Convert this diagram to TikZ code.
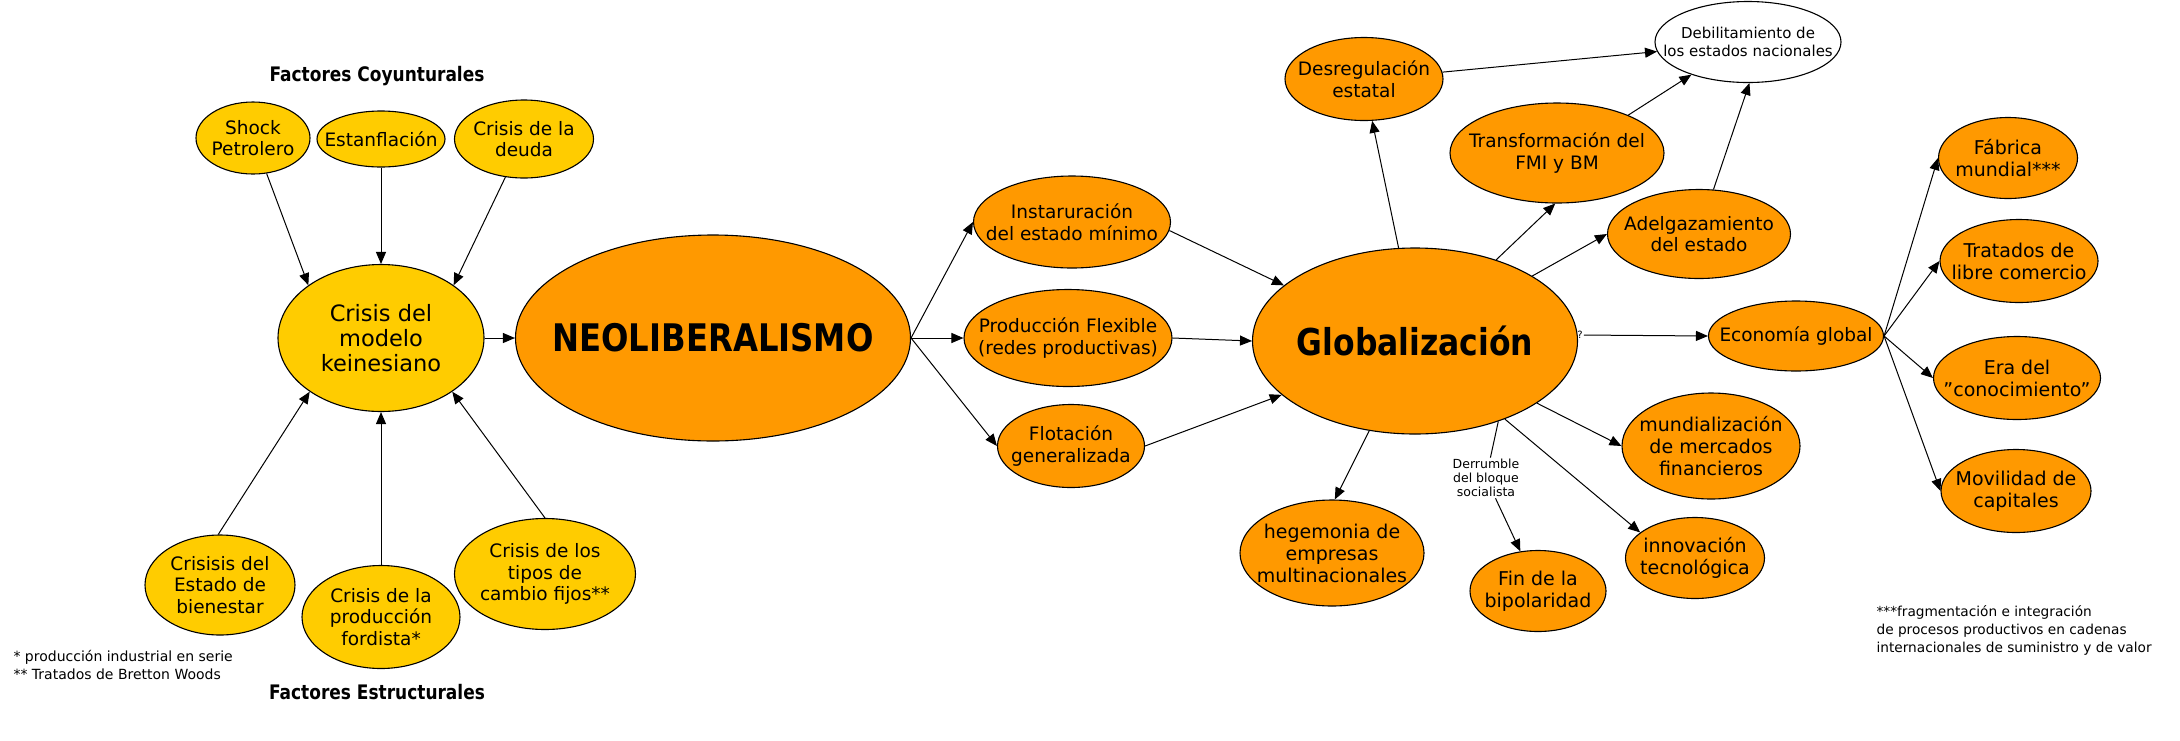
\documentclass[tikz,border=0pt]{standalone}
\usepackage{fontspec}
\setmainfont{DejaVu Sans}
\newfontfamily\headfont{DejaVu Sans}[FakeStretch=0.85]
\usepackage{tikz}
\usetikzlibrary{arrows.meta, shapes}
\definecolor{cmyellow}{RGB}{255,204,0}
\definecolor{cmorange}{RGB}{255,153,0}

\begin{document}
\begin{tikzpicture}[x=1pt, y=-1pt]
	\tikzstyle{factor} = [ ellipse, draw, fill=cmyellow, line width=1.1pt, inner sep=0pt ];
	\tikzstyle{concept} = [ factor, fill=cmorange ];
	\tikzstyle{txt} = [ align=center, inner sep=0pt, font={\fontsize{18.5}{21.5}\selectfont} ];
	\tikzstyle{bigtxt} = [ txt, font={\fontsize{19}{22}\selectfont} ];
	\tikzstyle{title} = [ font={\headfont\bfseries\fontsize{20}{24}\selectfont} ];
	\tikzstyle{info} = [ align=left, font={\fontsize{14}{18}\selectfont} ];
	\tikzstyle{phrase} = [ align=center, inner sep=1pt, font={\fontsize{12.5}{14.3}\selectfont} ];
	\tikzstyle{link} = [ ->, line width=1pt, >={Triangle[length=12pt, width=10pt]} ];

	\useasboundingbox (0,0) rectangle (2180,740);

	% factores coyunturales
	\node[title] (coyunt) at (377,76) {Factores Coyunturales};
	\node[factor, minimum width=114pt, minimum height=72pt, label={[txt]center:Shock\\Petrolero}] (shock) at (253,138) {};
	\node[factor, minimum width=128pt, minimum height=56pt, label={[txt]center:Estanflación}] (estan) at (381,139) {};
	\node[factor, minimum width=139pt, minimum height=78pt, label={[txt]center:Crisis de la\\deuda}] (deuda) at (524,139) {};

	\node[factor, minimum width=206pt, minimum height=147pt, label={[txt, font={\fontsize{22.5}{25}\selectfont}]center:Crisis del\\modelo\\keinesiano}] (keynes) at (381,338) {};

	% factores estructurales
	\node[factor, minimum width=150pt, minimum height=100pt, label={[txt]center:Crisisis del\\Estado de\\bienestar}] (bienestar) at (220,585) {};
	\node[factor, minimum width=158pt, minimum height=103pt, label={[txt]center:Crisis de la\\producción\\fordista*}] (fordista) at (381,617) {};
	\node[factor, minimum width=181pt, minimum height=111pt, label={[txt]center:Crisis de los\\tipos de\\cambio fijos**}] (tipos) at (545,574) {};
	\node[info, anchor=west] (notas) at (10,665) {* producción industrial en serie\\** Tratados de Bretton Woods};
	\node[title] (estruct) at (377,692) {Factores Estructurales};

	\node[concept, minimum width=395pt, minimum height=206pt, label={[txt, font={\headfont\bfseries\fontsize{38}{44}\selectfont}]center:NEOLIBERALISMO}] (neo) at (713,338) {};

	\node[concept, minimum width=197pt, minimum height=92pt, label={[txt]center:Instaruración\\del estado mínimo}] (inst) at (1072,222) {};
	\node[concept, minimum width=208pt, minimum height=97pt, label={[txt]center:Producción Flexible\\(redes productivas)}] (prod) at (1068,338) {};
	\node[concept, minimum width=147pt, minimum height=83pt, label={[txt]center:Flotación\\generalizada}] (flot) at (1071,446) {};

	\node[concept, minimum width=325pt, minimum height=186pt, label={[txt, font={\headfont\bfseries\fontsize{37}{44}\selectfont}]center:Globalización}] (glob) at (1415,341) {};

	\node[concept, minimum width=158pt, minimum height=83pt, label={[txt]center:Desregulación\\estatal}] (desreg) at (1364,79) {};
	\node[factor, fill=white, minimum width=186pt, minimum height=81pt, label={[txt, font={\fontsize{15}{18}\selectfont}]center:Debilitamiento de\\los estados nacionales}] (debil) at (1748,42) {};
	\node[concept, minimum width=214pt, minimum height=100pt, label={[txt]center:Transformación del\\FMI y BM}] (transf) at (1557,153) {};
	\node[concept, minimum width=183pt, minimum height=89pt, label={[txt]center:Adelgazamiento\\del estado}] (adelg) at (1699,234) {};
	\node[phrase, font={\fontsize{10}{11}\selectfont}] (q) at (1580,335) {?};
	\node[concept, minimum width=175pt, minimum height=70pt, label={[txt]center:Economía global}] (econ) at (1796,336) {};
	\node[concept, minimum width=178pt, minimum height=106pt, label={[bigtxt]center:mundialización\\de mercados\\financieros}] (mund) at (1711,446) {};
	\node[concept, minimum width=139pt, minimum height=81pt, label={[bigtxt]center:innovación\\tecnológica}] (innov) at (1695,558) {};
	\node[phrase] (derrumbe) at (1486,478) {Derrumble\\del bloque\\socialista};
	\node[concept, minimum width=136pt, minimum height=81pt, label={[bigtxt]center:Fin de la\\bipolaridad}] (fin) at (1538,591) {};
	\node[concept, minimum width=184pt, minimum height=106pt, label={[bigtxt]center:hegemonia de\\empresas\\multinacionales}] (hegem) at (1332,553) {};

	\node[concept, minimum width=139pt, minimum height=81pt, label={[bigtxt]center:Fábrica\\mundial***}] (fabrica) at (2008,158) {};
	\node[concept, minimum width=158pt, minimum height=83pt, label={[bigtxt]center:Tratados de\\libre comercio}] (tratados) at (2019,261) {};
	\node[concept, minimum width=167pt, minimum height=83pt, label={[bigtxt]center:Era del\\\symbol{34}conocimiento\symbol{34}}] (era) at (2017,378) {};
	\node[concept, minimum width=150pt, minimum height=83pt, label={[bigtxt]center:Movilidad de\\capitales}] (movil) at (2016,491) {};
	\node[info, anchor=west, font={\fontsize{13.7}{18}\selectfont}] (nota3) at (1873,630) {***fragmentación e integración\\de procesos productivos en cadenas\\internacionales de suministro y de valor};

	% flechas
	\draw[link] (shock.-69) -- (keynes.144);
	\draw[link] (estan.-90) -- (keynes.90);
	\draw[link] (deuda.-116) -- (keynes.36);
	\draw[link] (bienestar.92) -- (keynes.-143);
	\draw[link] (fordista.90) -- (keynes.-90);
	\draw[link] (tipos.90) -- (keynes.-37);
	\draw[link] (keynes) -- (neo);

	\foreach \n in {inst, prod, flot}
		\draw[link] (neo.0) -- (\n.180);
	\draw[link] (inst.-5) -- (glob.157);
	\draw[link] (prod.0) -- (glob.180);
	\draw[link] (flot.0) -- (glob.-158);

	\draw[link] (glob.100) -- (desreg.-79);
	\draw[link] (glob.45) -- (transf.-92);
	\draw[link] (glob.29) -- (adelg.180);
	\draw[link] (q) -- (econ.180);
	\draw[link] (glob.-27) -- (mund.180);
	\draw[link] (glob.-41) -- (innov.155);
	\draw[line width=1pt] (glob.-44) -- (derrumbe);
	\draw[link] (derrumbe) -- (fin.114);
	\draw[link] (glob.-117) -- (hegem.87);

	\draw[link] (desreg.5) -- (debil.186);
	\draw[link] (transf.28) -- (debil.210);
	\draw[link] (adelg.72) -- (debil.-88);

	\foreach \n in {fabrica, tratados, era, movil}
		\draw[link] (econ.0) -- (\n.180);
\end{tikzpicture}
\end{document}
